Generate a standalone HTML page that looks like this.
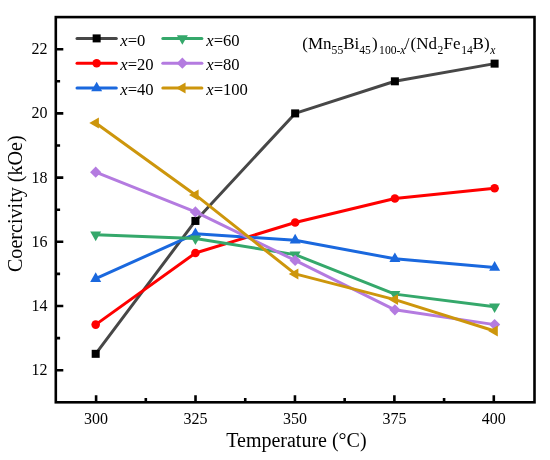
<!DOCTYPE html>
<html><head><meta charset="utf-8"><title>Coercivity vs Temperature</title>
<style>html,body{margin:0;padding:0;background:#fff}svg{display:block}</style></head>
<body>
<svg width="550" height="460" viewBox="0 0 550 460" font-family="'Liberation Serif', 'Times New Roman', serif" fill="#000">
<rect width="550" height="460" fill="#fff"/>
<polyline points="95.69,353.83 195.42,220.94 295.15,113.40 394.88,81.30 494.61,63.64" fill="none" stroke="#474747" stroke-width="3.0" stroke-linejoin="round" stroke-linecap="round"/>
<rect x="91.69" y="349.83" width="8.0" height="8.0" fill="#000000"/>
<rect x="191.42" y="216.94" width="8.0" height="8.0" fill="#000000"/>
<rect x="291.15" y="109.40" width="8.0" height="8.0" fill="#000000"/>
<rect x="390.88" y="77.30" width="8.0" height="8.0" fill="#000000"/>
<rect x="490.61" y="59.64" width="8.0" height="8.0" fill="#000000"/>
<polyline points="95.69,324.62 195.42,253.03 295.15,222.54 394.88,198.46 494.61,188.19" fill="none" stroke="#ff0000" stroke-width="3.0" stroke-linejoin="round" stroke-linecap="round"/>
<circle cx="95.69" cy="324.62" r="4.3" fill="#ff0000"/>
<circle cx="195.42" cy="253.03" r="4.3" fill="#ff0000"/>
<circle cx="295.15" cy="222.54" r="4.3" fill="#ff0000"/>
<circle cx="394.88" cy="198.46" r="4.3" fill="#ff0000"/>
<circle cx="494.61" cy="188.19" r="4.3" fill="#ff0000"/>
<polyline points="95.69,278.72 195.42,233.78 295.15,240.19 394.88,258.81 494.61,267.48" fill="none" stroke="#1a68de" stroke-width="3.0" stroke-linejoin="round" stroke-linecap="round"/>
<polygon points="90.19,281.92 101.19,281.92 95.69,272.32" fill="#1a68de"/>
<polygon points="189.92,236.97 200.92,236.97 195.42,227.38" fill="#1a68de"/>
<polygon points="289.65,243.39 300.65,243.39 295.15,233.79" fill="#1a68de"/>
<polygon points="389.38,262.01 400.38,262.01 394.88,252.41" fill="#1a68de"/>
<polygon points="489.11,270.68 500.11,270.68 494.61,261.08" fill="#1a68de"/>
<polyline points="95.69,234.74 195.42,238.59 295.15,254.64 394.88,294.12 494.61,306.64" fill="none" stroke="#35a86b" stroke-width="3.0" stroke-linejoin="round" stroke-linecap="round"/>
<polygon points="90.19,231.54 101.19,231.54 95.69,241.14" fill="#35a86b"/>
<polygon points="189.92,235.39 200.92,235.39 195.42,244.99" fill="#35a86b"/>
<polygon points="289.65,251.44 300.65,251.44 295.15,261.04" fill="#35a86b"/>
<polygon points="389.38,290.92 400.38,290.92 394.88,300.52" fill="#35a86b"/>
<polygon points="489.11,303.44 500.11,303.44 494.61,313.04" fill="#35a86b"/>
<polyline points="95.69,172.14 195.42,211.95 295.15,260.42 394.88,309.85 494.61,324.62" fill="none" stroke="#b47be0" stroke-width="3.0" stroke-linejoin="round" stroke-linecap="round"/>
<polygon points="90.09,172.14 95.69,166.54 101.29,172.14 95.69,177.74" fill="#b47be0"/>
<polygon points="189.82,211.95 195.42,206.35 201.02,211.95 195.42,217.55" fill="#b47be0"/>
<polygon points="289.55,260.42 295.15,254.82 300.75,260.42 295.15,266.02" fill="#b47be0"/>
<polygon points="389.28,309.85 394.88,304.25 400.48,309.85 394.88,315.45" fill="#b47be0"/>
<polygon points="489.01,324.62 494.61,319.02 500.21,324.62 494.61,330.22" fill="#b47be0"/>
<polyline points="95.69,123.03 195.42,194.93 295.15,273.90 394.88,299.58 494.61,331.04" fill="none" stroke="#cd960c" stroke-width="3.0" stroke-linejoin="round" stroke-linecap="round"/>
<polygon points="98.89,117.53 98.89,128.53 89.29,123.03" fill="#cd960c"/>
<polygon points="198.62,189.43 198.62,200.43 189.02,194.93" fill="#cd960c"/>
<polygon points="298.35,268.40 298.35,279.40 288.75,273.90" fill="#cd960c"/>
<polygon points="398.08,294.08 398.08,305.08 388.48,299.58" fill="#cd960c"/>
<polygon points="497.81,325.54 497.81,336.54 488.21,331.04" fill="#cd960c"/>
<rect x="55.8" y="17.1" width="478.70" height="385.20" fill="none" stroke="#000" stroke-width="2.6"/>
<path d="M96.10 402.3 v-7 M195.52 402.3 v-7 M294.95 402.3 v-7 M394.38 402.3 v-7 M493.80 402.3 v-7 M145.81 402.3 v-4.3 M245.24 402.3 v-4.3 M344.66 402.3 v-4.3 M444.09 402.3 v-4.3 M55.8 370.20 h7.5 M55.8 306.00 h7.5 M55.8 241.80 h7.5 M55.8 177.60 h7.5 M55.8 113.40 h7.5 M55.8 49.20 h7.5 M55.8 338.10 h4.3 M55.8 273.90 h4.3 M55.8 209.70 h4.3 M55.8 145.50 h4.3 M55.8 81.30 h4.3" stroke="#000" stroke-width="2.6" fill="none"/>
<g font-size="16px">
<text x="96.10" y="423.8" text-anchor="middle">300</text>
<text x="195.52" y="423.8" text-anchor="middle">325</text>
<text x="294.95" y="423.8" text-anchor="middle">350</text>
<text x="394.38" y="423.8" text-anchor="middle">375</text>
<text x="493.80" y="423.8" text-anchor="middle">400</text>
<text x="47.6" y="375.20" text-anchor="end">12</text>
<text x="47.6" y="311.00" text-anchor="end">14</text>
<text x="47.6" y="246.80" text-anchor="end">16</text>
<text x="47.6" y="182.60" text-anchor="end">18</text>
<text x="47.6" y="118.40" text-anchor="end">20</text>
<text x="47.6" y="54.20" text-anchor="end">22</text>
</g>
<text x="296.4" y="447" font-size="20px" text-anchor="middle">Temperature (°C)</text>
<text transform="translate(21.8 203.7) rotate(-90)" font-size="20.1px" text-anchor="middle">Coercivity (kOe)</text>
<text x="302.3" y="48.6" font-size="17px">(Mn<tspan font-size="11.6px" dy="5.3">55</tspan><tspan dy="-5.3">Bi</tspan><tspan font-size="11.6px" dy="5.3">45</tspan><tspan dy="-5.3" dx="1.1">)</tspan><tspan font-size="11.6px" dy="5.3" dx="1.5">100-<tspan font-style="italic">x</tspan></tspan><tspan dy="-5.3" dx="-0.9">/</tspan><tspan dx="1.2">(Nd</tspan><tspan font-size="11.6px" dy="5.3" dx="0.6">2</tspan><tspan dy="-5.3" dx="0.2">Fe</tspan><tspan font-size="11.6px" dy="5.3" dx="0.7">14</tspan><tspan dy="-5.3" dx="-0.3">B)</tspan><tspan font-size="11.6px" font-style="italic" dy="5.3" dx="0.6">x</tspan></text>
<line x1="77.0" y1="38.4" x2="116.3" y2="38.4" stroke="#474747" stroke-width="3.0" stroke-linecap="round"/>
<rect x="92.65" y="34.40" width="8.0" height="8.0" fill="#000000"/>
<text x="120.3" y="46.00" font-size="16.6px"><tspan font-style="italic">x</tspan>=0</text>
<line x1="77.0" y1="63.2" x2="116.3" y2="63.2" stroke="#ff0000" stroke-width="3.0" stroke-linecap="round"/>
<circle cx="96.65" cy="63.20" r="4.3" fill="#ff0000"/>
<text x="120.3" y="70.10" font-size="16.6px"><tspan font-style="italic">x</tspan>=20</text>
<line x1="77.0" y1="88.1" x2="116.3" y2="88.1" stroke="#1a68de" stroke-width="3.0" stroke-linecap="round"/>
<polygon points="91.15,91.30 102.15,91.30 96.65,81.70" fill="#1a68de"/>
<text x="120.3" y="95.00" font-size="16.6px"><tspan font-style="italic">x</tspan>=40</text>
<line x1="162.8" y1="38.4" x2="201.9" y2="38.4" stroke="#35a86b" stroke-width="3.0" stroke-linecap="round"/>
<polygon points="176.85,35.20 187.85,35.20 182.35,44.80" fill="#35a86b"/>
<text x="206.3" y="46.00" font-size="16.6px"><tspan font-style="italic">x</tspan>=60</text>
<line x1="162.8" y1="63.2" x2="201.9" y2="63.2" stroke="#b47be0" stroke-width="3.0" stroke-linecap="round"/>
<polygon points="176.75,63.20 182.35,57.60 187.95,63.20 182.35,68.80" fill="#b47be0"/>
<text x="206.3" y="70.10" font-size="16.6px"><tspan font-style="italic">x</tspan>=80</text>
<line x1="162.8" y1="88.1" x2="201.9" y2="88.1" stroke="#cd960c" stroke-width="3.0" stroke-linecap="round"/>
<polygon points="185.55,82.60 185.55,93.60 175.95,88.10" fill="#cd960c"/>
<text x="206.3" y="95.00" font-size="16.6px"><tspan font-style="italic">x</tspan>=100</text>
</svg>
</body></html>
